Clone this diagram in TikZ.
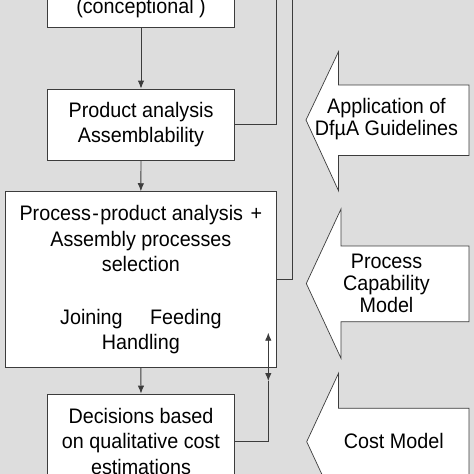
\documentclass[tikz,border=0pt]{standalone}
\usepackage{fontspec}
\setmainfont{Liberation Sans}[FakeStretch=0.94]
\usetikzlibrary{arrows.meta}
\definecolor{bg}{RGB}{221,221,221}
\definecolor{ln}{RGB}{60,60,60}
\tikzset{
  box/.style={draw=ln, line width=0.9pt, fill=white, inner sep=0pt, align=center,
    font={\fontsize{21}{25.5}\selectfont}},
  conn/.style={draw=ln, line width=0.9pt},
  tip/.style={-{Latex[length=8pt,width=6.5pt]}},
  blockarrow/.style={draw=ln, line width=0.7pt, fill=white},
  alabel/.style={align=center, inner sep=0pt, font={\fontsize{21}{22}\selectfont}},
}
\begin{document}
\begin{tikzpicture}[x=1pt,y=-1pt]
\useasboundingbox (0,0) rectangle (474,474);
\clip (0,0) rectangle (474,474);
\fill[bg] (0,0) rectangle (474,474);

% left column boxes
\node[box, minimum width=186.5pt, minimum height=39.3pt] (b1) at (141,7.65) {(conceptional )};
\node[box, minimum width=186.5pt, minimum height=71pt] (b2) at (141,124.5) {Product analysis\\Assemblability};
\node[box, minimum width=270.3pt, minimum height=175.8pt] (b3) at (140.85,279.6)
  {Process\kern1.5pt-\kern1.5pt product analysis\kern2pt\ +\\Assembly processes\\selection\\[27pt]Joining\hspace{22pt} Feeding\\Handling};
\node[box, minimum width=186.5pt, minimum height=94.6pt] (b4) at (141,441.3)
  {Decisions based\\on qualitative cost\\estimations};

\draw[conn,tip] (b1.south) -- (b2.north);
\draw[conn,tip] (b2.south) -- (b3.north);
\draw[conn,tip] (b3.south) -- (b4.north);

% feedback lines
\coordinate (f1) at (276,-5);
\coordinate (f2) at (292,-5);
\draw[conn] (b2.east) -| (f1);
\draw[conn] (f2) |- (b3.east);

% double arrow
\coordinate (up) at (268.3,332.7);
\coordinate (dn) at (268.3,381);
\draw[conn,{Latex[length=8pt,width=6.5pt]}-{Latex[length=8pt,width=6.5pt]}] (up) -- (dn);
\draw[conn] (dn) |- (b4.east);

% block arrows
\draw[blockarrow] (306,120) -- (338.5,51.7) -- (338.5,85) -- (469,85) -- (469,155.5)
  -- (338.5,155.5) -- (338.5,190.7) -- cycle;
\node[alabel] (a1) at (386.5,119) {Application of\\Df\textmu A Guidelines};

\draw[blockarrow] (306.3,283.5) -- (341,209) -- (341,246) -- (469,246) -- (469,321.7)
  -- (341,321.7) -- (341,358.3) -- cycle;
\node[alabel] (a2) at (386.5,283) {Process\\Capability\\Model};

\draw[blockarrow] (306.7,441.7) -- (338.5,373.3) -- (338.5,408.3) -- (469,408.3) -- (469,475.5)
  -- (338.5,475.5) -- (338.5,510) -- cycle;
\node[alabel] (a3) at (393.8,441) {Cost Model};
\end{tikzpicture}
\end{document}
